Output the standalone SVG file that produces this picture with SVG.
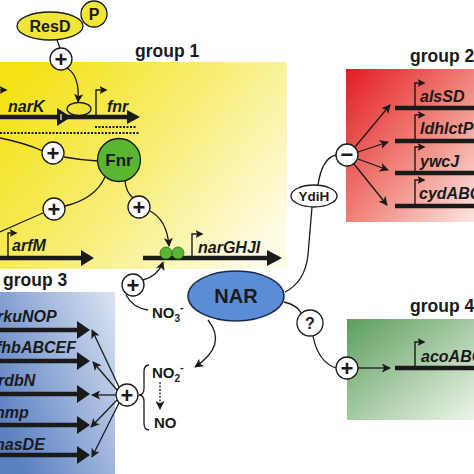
<svg xmlns="http://www.w3.org/2000/svg" width="474" height="474" viewBox="0 0 474 474">
<defs>
<linearGradient id="gY" x1="0" y1="0.2" x2="1" y2="0.8">
<stop offset="0" stop-color="#f4e216"/><stop offset="0.5" stop-color="#f8ee78"/><stop offset="1" stop-color="#fefce8"/>
</linearGradient>
<linearGradient id="gR" x1="0" y1="0" x2="1" y2="1">
<stop offset="0" stop-color="#e31b23"/><stop offset="0.55" stop-color="#f08a80"/><stop offset="1" stop-color="#fde6e0"/>
</linearGradient>
<linearGradient id="gB" x1="0" y1="0.7" x2="1" y2="0">
<stop offset="0" stop-color="#5b80c2"/><stop offset="1" stop-color="#dbe4f2"/>
</linearGradient>
<linearGradient id="gG" x1="0" y1="0" x2="1" y2="1">
<stop offset="0" stop-color="#5c9e5c"/><stop offset="1" stop-color="#eef5ea"/>
</linearGradient>
<marker id="ah" viewBox="0 0 10 10" refX="9" refY="5" markerWidth="9" markerHeight="9" markerUnits="userSpaceOnUse" orient="auto">
<path d="M0,0 L10,5 L0,10 L2.5,5 z" fill="#1a1a1a"/>
</marker>
<marker id="ps" viewBox="0 0 10 10" refX="8" refY="5" markerWidth="8" markerHeight="8" markerUnits="userSpaceOnUse" orient="auto">
<path d="M0,0 L10,5 L0,10 L2,5 z" fill="#1a1a1a"/>
</marker>
</defs>
<style>
.lbl{font-family:"Liberation Sans",Arial,sans-serif;font-weight:bold;fill:#1a1a1a}
.grp{font-family:"Liberation Sans",Arial,sans-serif;font-weight:bold;font-size:17.5px;fill:#1a1a1a}
.gene{font-family:"Liberation Sans",Arial,sans-serif;font-weight:bold;font-style:italic;font-size:16px;fill:#1a1a1a}
.dna{stroke:#1a1a1a;stroke-width:4.5;fill:none}
.prom{stroke:#1a1a1a;stroke-width:1.4;fill:none}
.con{stroke:#1a1a1a;stroke-width:1.3;fill:none}
.sign{fill:#fff;stroke:#1a1a1a;stroke-width:1.3}
.sym{font-family:"Liberation Sans",Arial,sans-serif;font-weight:bold;font-size:22px;fill:#1a1a1a;text-anchor:middle}
.tri{fill:#1a1a1a}
</style>

<!-- group boxes -->
<g id="group1">
<rect x="0" y="62" width="287" height="207" fill="url(#gY)"/>
<text class="grp" x="135" y="57">group 1</text>
</g>
<g id="group2">
<rect x="346" y="69" width="128" height="153" fill="url(#gR)"/>
<text class="grp" x="410" y="62">group 2</text>
</g>
<g id="group3">
<rect x="0" y="292" width="115" height="182" fill="url(#gB)"/>
<text class="grp" x="3" y="286">group 3</text>
</g>
<g id="group4">
<rect x="347" y="319" width="127" height="101" fill="url(#gG)"/>
<text class="grp" x="410" y="312">group 4</text>
</g>

<!-- connectors -->
<g id="connectors">
<line class="con" x1="57" y1="40" x2="60" y2="48"/>
<path class="con" d="M67,68 Q80,76 78,102" marker-end="url(#ah)"/>
<path class="con" d="M0,138 Q25,143 43,151"/>
<path class="con" d="M64,157 Q80,160 98,161"/>
<path class="con" d="M105,177 Q95,199 65,206"/>
<path class="con" d="M43,213 Q22,222 0,232"/>
<path class="con" d="M125,181 Q126,192 133,198"/>
<path class="con" d="M150,211 Q167,220 169,246" marker-end="url(#ah)"/>
<path class="con" d="M143,280 Q158,276 163,262" marker-end="url(#ah)"/>
<path class="con" d="M126,295 Q133,308 148,310"/>
<path class="con" d="M208,320 Q228,345 195,367" marker-end="url(#ah)"/>
<line class="con" x1="160" y1="382" x2="160" y2="409" stroke-dasharray="2,1.5" stroke-width="2" marker-end="url(#ah)"/>
<path class="con" d="M149,365 Q144,365 144,372 L144,388 Q144,395 139,395 Q144,395 144,402 L144,423 Q144,430 149,430"/>
<path class="con" d="M285,292 Q305,282 308,255 L312,207"/>
<path class="con" d="M318,185 Q322,158 336,155"/>
<line class="con" x1="355" y1="147" x2="390" y2="105" marker-end="url(#ah)"/>
<line class="con" x1="358" y1="152" x2="388" y2="142" marker-end="url(#ah)"/>
<line class="con" x1="358" y1="159" x2="388" y2="170" marker-end="url(#ah)"/>
<line class="con" x1="354" y1="164" x2="387" y2="205" marker-end="url(#ah)"/>
<path class="con" d="M284,302 Q297,305 301,313"/>
<path class="con" d="M313,336 Q318,362 336,368"/>
<line class="con" x1="358" y1="368" x2="390" y2="368" marker-end="url(#ah)"/>
<line class="con" x1="119" y1="387" x2="92" y2="330" marker-end="url(#ah)"/>
<line class="con" x1="117" y1="390" x2="93" y2="362" marker-end="url(#ah)"/>
<line class="con" x1="116" y1="395" x2="92" y2="395" marker-end="url(#ah)"/>
<line class="con" x1="117" y1="400" x2="91" y2="427" marker-end="url(#ah)"/>
<line class="con" x1="119" y1="403" x2="92" y2="457" marker-end="url(#ah)"/>
</g>

<!-- group 1 operon narK-fnr -->
<g id="narK-fnr">
<path class="prom" d="M-2,97 L-2,90 L6,90" marker-end="url(#ps)"/>
<line class="dna" x1="0" y1="117" x2="130" y2="117"/>
<path class="tri" d="M57,108 L71,117 L57,126 z"/>
<line x1="61" y1="114" x2="61" y2="120" stroke="#fff" stroke-width="1.2"/>
<path class="tri" d="M127,110 L140,117 L127,124 z"/>
<path class="prom" d="M96,117 L96,90 L106,90" marker-end="url(#ps)"/>
<text class="gene" x="8" y="112">narK</text>
<text class="gene" x="107" y="112">fnr</text>
<line x1="95" y1="127" x2="137" y2="127" stroke="#1a1a1a" stroke-width="2" stroke-dasharray="2,1.5"/>
<line x1="0" y1="133" x2="140" y2="133" stroke="#1a1a1a" stroke-width="2" stroke-dasharray="2,1.5"/>
<ellipse cx="79" cy="109" rx="12" ry="6.5" fill="#f1e53a" stroke="#1a1a1a" stroke-width="1.3"/>
</g>

<g id="ResD">
<ellipse cx="50" cy="26" rx="33" ry="14" fill="#f1e53a" stroke="#1a1a1a" stroke-width="1.3"/>
<text class="lbl" x="50" y="32" font-size="16" text-anchor="middle">ResD</text>
</g>
<g id="P">
<circle cx="94" cy="14" r="13" fill="#f1e53a" stroke="#1a1a1a" stroke-width="1.3"/>
<text class="lbl" x="94" y="20" font-size="16" text-anchor="middle">P</text>
</g>

<g id="Fnr">
<circle cx="119" cy="160" r="21.5" fill="#5ab531" stroke="#1a1a1a" stroke-width="1.3"/>
<text class="lbl" x="119" y="166" font-size="17" text-anchor="middle">Fnr</text>
</g>

<g id="arfM">
<line class="dna" x1="0" y1="258" x2="84" y2="258"/>
<path class="tri" d="M81,250 L94,258 L81,266 z"/>
<path class="prom" d="M8,258 L8,233 L16,233" marker-end="url(#ps)"/>
<text class="gene" x="12" y="251">arfM</text>
</g>

<g id="narGHJI">
<line class="dna" x1="143" y1="258" x2="270" y2="258"/>
<path class="tri" d="M267,250 L282,258 L267,266 z"/>
<path class="prom" d="M192,258 L192,234 L202,234" marker-end="url(#ps)"/>
<text class="gene" x="198" y="253">narGHJI</text>
<circle cx="166" cy="253" r="6" fill="#5ab531" stroke="#2b6b1a" stroke-width="0.8"/>
<circle cx="178" cy="253" r="6" fill="#5ab531" stroke="#2b6b1a" stroke-width="0.8"/>
</g>

<g id="NAR">
<ellipse cx="236" cy="296" rx="48" ry="25" fill="#5b8dd6" stroke="#1a2a50" stroke-width="1.5"/>
<text class="lbl" x="236" y="303" font-size="20" text-anchor="middle" fill="#15213f">NAR</text>
</g>

<g id="NO3">
<text class="lbl" x="152" y="318" font-size="15">NO<tspan font-size="10" dy="4">3</tspan><tspan font-size="11" dy="-11">-</tspan></text>
</g>
<g id="NO2">
<text class="lbl" x="152" y="378" font-size="15">NO<tspan font-size="10" dy="4">2</tspan><tspan font-size="11" dy="-11">-</tspan></text>
</g>
<g id="NO">
<text class="lbl" x="154" y="428" font-size="15">NO</text>
</g>

<!-- signs -->
<g id="plus-resd"><circle class="sign" cx="61" cy="59" r="11"/><text class="sym" x="61" y="66.5">+</text></g>
<g id="plus-fnr-left"><circle class="sign" cx="53" cy="153" r="11"/><text class="sym" x="53" y="160.5">+</text></g>
<g id="plus-arfM"><circle class="sign" cx="54" cy="209" r="11"/><text class="sym" x="54" y="216.5">+</text></g>
<g id="plus-nar"><circle class="sign" cx="139" cy="207" r="11"/><text class="sym" x="139" y="214.5">+</text></g>
<g id="plus-no3"><circle class="sign" cx="133" cy="285" r="11"/><text class="sym" x="133" y="292.5">+</text></g>
<g id="plus-g3"><circle class="sign" cx="127" cy="395" r="11"/><text class="sym" x="127" y="402.5">+</text></g>
<g id="plus-g4"><circle class="sign" cx="347" cy="368" r="11"/><text class="sym" x="347" y="375.5">+</text></g>
<g id="minus-g2"><circle class="sign" cx="347" cy="155" r="11"/><text class="sym" x="347" y="162">−</text></g>
<g id="question"><circle class="sign" cx="310" cy="323" r="13"/><text class="lbl" x="310" y="329" font-size="16" text-anchor="middle">?</text></g>
<g id="YdiH"><ellipse class="sign" cx="314" cy="196" rx="23" ry="11"/><text class="lbl" x="314" y="201" font-size="13.5" text-anchor="middle">YdiH</text></g>

<!-- group 2 genes -->
<g id="alsSD">
<line class="dna" x1="395" y1="108" x2="474" y2="108"/>
<path class="prom" d="M415,108 L415,83 L424,83" marker-end="url(#ps)"/>
<text class="gene" x="420" y="102">alsSD</text>
</g>
<g id="ldhlctP">
<line class="dna" x1="395" y1="141" x2="474" y2="141"/>
<path class="prom" d="M415,141 L415,115 L424,115" marker-end="url(#ps)"/>
<text class="gene" x="420" y="134">ldhlctP</text>
</g>
<g id="ywcJ">
<line class="dna" x1="395" y1="173" x2="474" y2="173"/>
<path class="prom" d="M415,173 L415,147 L424,147" marker-end="url(#ps)"/>
<text class="gene" x="420" y="167">ywcJ</text>
</g>
<g id="cydABC">
<line class="dna" x1="395" y1="206" x2="474" y2="206"/>
<path class="prom" d="M415,206 L415,180 L424,180" marker-end="url(#ps)"/>
<text class="gene" x="419" y="199">cydABC</text>
</g>

<!-- group 3 genes -->
<g id="g3-1"><line class="dna" x1="0" y1="330" x2="78" y2="330"/><path class="tri" d="M77,321 L90,330 L77,339 z"/><text class="gene" x="-3" y="322">rkuNOP</text></g>
<g id="g3-2"><line class="dna" x1="0" y1="361" x2="78" y2="361"/><path class="tri" d="M77,352 L90,361 L77,370 z"/><text class="gene" x="-4" y="353">fhbABCEF</text></g>
<g id="g3-3"><line class="dna" x1="0" y1="394" x2="78" y2="394"/><path class="tri" d="M77,385 L90,394 L77,403 z"/><text class="gene" x="-2" y="386">rdbN</text></g>
<g id="g3-4"><line class="dna" x1="0" y1="425" x2="78" y2="425"/><path class="tri" d="M77,416 L90,425 L77,434 z"/><text class="gene" x="-5" y="418">hmp</text></g>
<g id="g3-5"><line class="dna" x1="0" y1="455" x2="78" y2="455"/><path class="tri" d="M77,446 L90,455 L77,464 z"/><text class="gene" x="-5" y="450">nasDE</text></g>

<!-- group 4 gene -->
<g id="acoABC">
<line class="dna" x1="395" y1="368" x2="474" y2="368"/>
<path class="prom" d="M415,368 L415,342 L424,342" marker-end="url(#ps)"/>
<text class="gene" x="421" y="362">acoABC</text>
</g>
</svg>
